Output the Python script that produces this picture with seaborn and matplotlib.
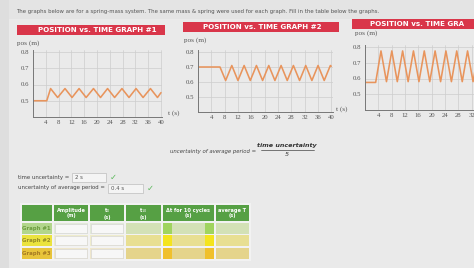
import matplotlib
matplotlib.use("Agg")
import matplotlib.pyplot as plt
import seaborn as sns
from matplotlib.patches import Rectangle
from matplotlib.ticker import MultipleLocator

# ---------------- data ----------------
g1_time = [0, 4.3, 5.5, 7.7, 10.0, 12.2, 14.4, 16.6, 18.9, 21.1, 23.3, 25.5, 27.8, 30.0, 32.2, 34.4, 36.7, 38.9, 40]
g1_pos = [0.50, 0.50, 0.575, 0.52, 0.575, 0.52, 0.575, 0.52, 0.575, 0.52, 0.575, 0.52, 0.575, 0.52, 0.575, 0.52, 0.575, 0.52, 0.55]

g2_time = [0, 6.6, 8.3, 10.15, 12.0, 13.85, 15.7, 17.55, 19.4, 21.25, 23.1, 24.95, 26.8, 28.65, 30.5, 32.35, 34.2, 36.05, 37.9, 39.75, 40]
g2_pos = [0.70, 0.70, 0.61, 0.71, 0.61, 0.71, 0.61, 0.71, 0.61, 0.71, 0.61, 0.71, 0.61, 0.71, 0.61, 0.71, 0.61, 0.71, 0.61, 0.71, 0.705]

g3_time = [0, 3.2, 4.8, 6.45, 8.05, 9.7, 11.3, 12.95, 14.55, 16.2, 17.8, 19.45, 21.05, 22.7, 24.3, 25.95, 27.55, 29.2, 30.8, 32.45, 34.05, 35.7, 37.3, 38.95, 40]
g3_pos = [0.575, 0.575, 0.775, 0.58, 0.775, 0.58, 0.775, 0.58, 0.775, 0.58, 0.775, 0.58, 0.775, 0.58, 0.775, 0.58, 0.775, 0.58, 0.775, 0.58, 0.775, 0.58, 0.775, 0.58, 0.70]

x_ticks = [4, 8, 12, 16, 20, 24, 28, 32, 36, 40]
y_ticks = [0.5, 0.6, 0.7, 0.8]
headers = ["POSITION vs. TIME GRAPH #1", "POSITION vs. TIME GRAPH #2", "POSITION vs. TIME GRA"]

table_cols = ["Amplitude\n(m)", "t$_0$\n(s)", "t$_{10}$\n(s)", "\u0394t for 10 cycles\n(s)", "average T\n(s)"]
table_rows = ["Graph #1", "Graph #2", "Graph #3"]

intro = ("The graphs below are for a spring-mass system. The same mass & spring were used for each graph. "
         "Fill in the table below the graphs.")

# ---------------- styling ----------------
sns.set_style("white")
plt.rcParams['font.family'] = ['DejaVu Sans']

W, H = 474, 268
BG = "#eaeaea"
LINE = "#e8945c"
GRID = "#cdcdcd"
RED = "#d9364a"

fig = plt.figure(figsize=(W / 100, H / 100), dpi=100)
fig.patch.set_facecolor(BG)


def rect(x0, y0, x1, y1):
    return [x0 / W, 1 - y1 / H, (x1 - x0) / W, (y1 - y0) / H]


ov = fig.add_axes([0, 0, 1, 1], zorder=0)
ov.set_xlim(0, W)
ov.set_ylim(H, 0)
ov.axis("off")

# left gutter and top strip
ov.add_patch(Rectangle((0, 0), 9, H, color="#dedede", lw=0))
ov.add_patch(Rectangle((9, 0), W, 19, color="#e4e4e4", lw=0))
ov.text(16, 12, intro, fontsize=3.9, color="#555555", va="center", ha="left")


def draw_graph(t, p, x_t0, pps, y08, p01, hdr, hy, hx0, hx1, tx, pos_xy, ts_xy):
    x1 = x_t0 + 40.4 * pps
    ytop = y08 - 0.15 * p01
    ybot = y08 + 4 * p01
    ax = fig.add_axes(rect(x_t0, ytop, x1, ybot), zorder=2)
    ax.set_facecolor("none")
    sns.lineplot(x=t, y=p, ax=ax, color=LINE, lw=1.15, sort=False)
    ax.set_xlim(0, 40.4)
    ax.set_ylim(0.4, 0.815)
    ax.set_xticks(x_ticks)
    ax.set_yticks(y_ticks)
    ax.xaxis.set_minor_locator(MultipleLocator(1))
    ax.grid(True, which="major", color=GRID, lw=0.5)
    ax.tick_params(axis="both", which="major", length=2, width=0.5, labelsize=4.9, pad=1.5,
                   colors="#555555", labelfontfamily="Liberation Serif", direction="inout")
    ax.tick_params(axis="x", which="minor", length=1.5, width=0.4, color="#666666", direction="in")
    for s in ["top", "right"]:
        ax.spines[s].set_visible(False)
    for s in ["left", "bottom"]:
        ax.spines[s].set_color("#777777")
        ax.spines[s].set_linewidth(0.7)
    ax.set_xlabel("")
    ax.set_ylabel("")
    # header bar
    ov.add_patch(Rectangle((hx0, hy), hx1 - hx0, 10, color=RED, lw=0))
    ov.text(tx, hy + 5.3, hdr, fontsize=5.1, fontweight="bold", color="white", va="center", ha="left")
    ov.text(pos_xy[0], pos_xy[1], "pos (m)", fontsize=5.2, color="#555555", va="center", ha="left",
            family="Liberation Serif")
    if ts_xy is not None:
        ov.text(ts_xy[0], ts_xy[1], "t (s)", fontsize=5.2, color="#555555", va="center", ha="left",
                family="Liberation Serif")
    return ax


draw_graph(g1_time, g1_pos, 33, 3.2, 52, 16.25, headers[0], 25, 17, 165, 38, (17, 43), (168, 113))
draw_graph(g2_time, g2_pos, 198, 3.33, 52, 15.0, headers[1], 22, 183, 339, 203, (184, 40), (336, 109))
draw_graph(g3_time, g3_pos, 365, 3.33, 47, 15.75, headers[2], 19, 352, 480, 370, (355, 33), None)

# ---------------- middle formula ----------------
ov.text(170, 152, "uncertainty of average period =", fontsize=3.9, style="italic", color="#444444",
        va="center", ha="left")
ov.text(287, 145.5, "time uncertainty", fontsize=4.6, style="italic", fontweight="bold", color="#333333",
        va="center", ha="center")
ov.plot([261, 314], [149.5, 149.5], color="#444444", lw=0.5)
ov.text(287, 155, "5", fontsize=4.6, style="italic", color="#333333", va="center", ha="center")

# answers
ov.text(18, 177.5, "time uncertainty =", fontsize=3.9, color="#444444", va="center", ha="left")
ov.add_patch(Rectangle((72, 173), 34, 9, facecolor="#f4f4f4", edgecolor="#bdbdbd", lw=0.5))
ov.text(75, 177.5, "2 s", fontsize=3.9, color="#555555", va="center", ha="left")
ov.text(110, 177.5, "\u2713", fontsize=6, color="#5cb85c", va="center", ha="left", fontweight="bold")

ov.text(18, 188, "uncertainty of average period =", fontsize=3.9, color="#444444", va="center", ha="left")
ov.add_patch(Rectangle((108, 183.5), 35, 9, facecolor="#f4f4f4", edgecolor="#bdbdbd", lw=0.5))
ov.text(111, 188, "0.4 s", fontsize=3.9, color="#555555", va="center", ha="left")
ov.text(147, 188, "\u2713", fontsize=6, color="#5cb85c", va="center", ha="left", fontweight="bold")

# ---------------- table ----------------
col_x = [21, 53, 89, 125, 162, 215, 250]
row_y = [204, 222, 234.5, 247, 259.5]
HEAD_G = "#56a044"
ov.add_patch(Rectangle((20, 203), 231, 57.5, color="#f2f2f2", lw=0))
g = 0.6
for c in range(6):
    ov.add_patch(Rectangle((col_x[c] + g, row_y[0] + g), col_x[c + 1] - col_x[c] - 2 * g,
                           row_y[1] - row_y[0] - 2 * g, color=HEAD_G, lw=0))
for c, lab in enumerate(table_cols):
    ov.text((col_x[c + 1] + col_x[c + 2]) / 2, (row_y[0] + row_y[1]) / 2, lab, fontsize=3.6,
            fontweight="bold", color="white", ha="center", va="center", linespacing=1.15)

label_bg = ["#b2d68c", "#ebe33e", "#e8c43b"]
label_fg = ["#6c9c3e", "#958a26", "#a57a22"]
tint = ["#d3e1b6", "#e8df92", "#e5d48b"]
bright = ["#a0d45f", "#f4e41e", "#f0c02c"]
frame = ["#e2ead8", "#eeeccd", "#eee6cc"]
for r, lab in enumerate(table_rows):
    y0 = row_y[r + 1]
    y1 = row_y[r + 2]
    h = y1 - y0
    ov.add_patch(Rectangle((col_x[0] + g, y0 + g), col_x[1] - col_x[0] - 2 * g, h - 2 * g, color=label_bg[r], lw=0))
    ov.text(col_x[0] + 1.5, (y0 + y1) / 2, lab, fontsize=3.9, fontweight="bold", color=label_fg[r],
            ha="left", va="center")
    for c in (1, 2):
        ov.add_patch(Rectangle((col_x[c] + g, y0 + g), col_x[c + 1] - col_x[c] - 2 * g, h - 2 * g,
                               color=frame[r], lw=0))
        ov.add_patch(Rectangle((col_x[c] + 1.8, y0 + 1.6), col_x[c + 1] - col_x[c] - 3.6, h - 3.2,
                               facecolor="#f7f7f7", edgecolor="#d0d0d0", lw=0.4))
    ov.add_patch(Rectangle((col_x[3] + g, y0 + g), col_x[4] - col_x[3] - 2 * g, h - 2 * g, color=tint[r], lw=0))
    ov.add_patch(Rectangle((col_x[4] + g, y0 + g), col_x[5] - col_x[4] - 2 * g, h - 2 * g, color=tint[r], lw=0))
    ov.add_patch(Rectangle((col_x[4] + g, y0 + g), 9, h - 2 * g, color=bright[r], lw=0))
    ov.add_patch(Rectangle((col_x[5] - g - 9, y0 + g), 9, h - 2 * g, color=bright[r], lw=0))
    ov.add_patch(Rectangle((col_x[5] + g, y0 + g), col_x[6] - col_x[5] - 2 * g, h - 2 * g, color=tint[r], lw=0))

fig.savefig("out.png", dpi=100, facecolor=fig.get_facecolor())
